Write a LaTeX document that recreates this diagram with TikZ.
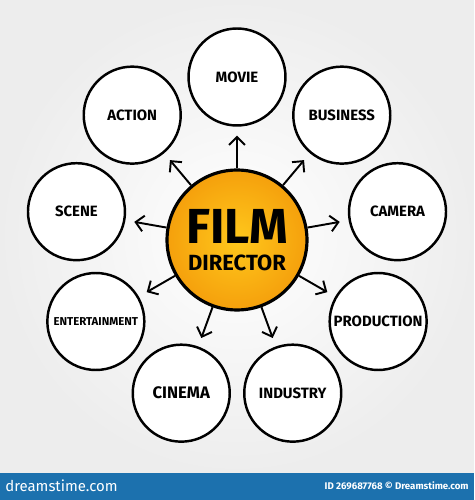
\documentclass[tikz,border=0pt]{standalone}
\usepackage{fontspec}
\setmainfont{Fira Sans}
\usepackage{xcolor}
\usetikzlibrary{arrows.meta,shapes}
\definecolor{filmyellow}{HTML}{FFC81C}
\definecolor{filmorange}{HTML}{F5A00C}
\definecolor{bandblue}{HTML}{1C71AE}
\tikzset{
>={Straight Barb[length=4.5pt,width=9pt]},
  satnode/.style={
    circle,
    draw=black, line width=1.4pt,
    fill=white,
    minimum size=1.94cm,
    inner sep=0pt,
    text centered,
    font=\bfseries\fontsize{8.5}{10}\selectfont},
  mainnode/.style={
    circle,
    draw=black, line width=1.8pt,
    inner color=filmyellow, outer color=filmorange,
    minimum size=2.8cm,
    inner sep=0pt,
    align=center},
  bandtext/.style={text=white, inner sep=0pt},
}

\begin{document}
\begin{tikzpicture}[x=0.02cm, y=0.02cm]
    \tikzset{
        myarrow/.style={draw, line width=1.1pt, ->, shorten >=0.18cm},
    }
    \useasboundingbox (-237,-260) rectangle (237,240);
    % background and bottom band
    \shade[inner color=white, outer color=black!7] (-237,-233) rectangle (237,240);
    \fill[bandblue] (-237,-260) rectangle (237,-233);

    \node[mainnode] (film) at (0,0) {\bfseries\fontsize{28}{30}\selectfont FILM\\[3pt]\bfseries\fontsize{12.5}{13}\selectfont DIRECTOR};

    \node[satnode] (movie) at (90:163) {MOVIE};
    \node[satnode] (business) at (50:163) {BUSINESS};
    \node[satnode] (camera) at (10:163) {CAMERA};
    \node[satnode] (production) at (-30:163) {PRODUCTION};
    \node[satnode] (industry) at (-70:163) {INDUSTRY};
    \node[satnode] (cinema) at (-110:163) {\fontsize{9.5}{11}\selectfont CINEMA};
    \node[satnode, font=\bfseries\fontsize{6.5}{8}\selectfont] (entertainment) at (-150:163) {ENTERTAINMENT};
    \node[satnode] (scene) at (170:163) {SCENE};
    \node[satnode] (action) at (130:163) {ACTION};

    \draw[myarrow] (film) -- (movie);
    \draw[myarrow] (film) -- (business);
    \draw[myarrow] (film) -- (camera);
    \draw[myarrow] (film) -- (production);
    \draw[myarrow] (film) -- (industry);
    \draw[myarrow] (film) -- (cinema);
    \draw[myarrow] (film) -- (entertainment);
    \draw[myarrow] (film) -- (scene);
    \draw[myarrow] (film) -- (action);

    \node[bandtext, anchor=west, font=\fontsize{8.5}{9}\selectfont] (brand) at (-232,-246) {dreamstime.com};
    \node[bandtext, anchor=east, font=\bfseries\fontsize{5.5}{6}\selectfont] (imageid) at (232,-246) {ID 269687768 \textcopyright{} Dreamstime.com};
\end{tikzpicture}
\end{document}
